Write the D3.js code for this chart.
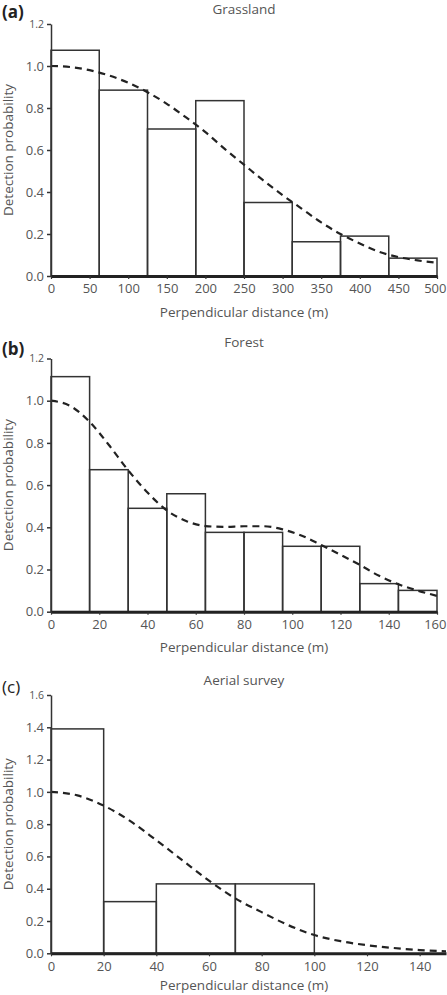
<!DOCTYPE html>
<html>
<head>
<meta charset="utf-8">
<script src="https://cdn.jsdelivr.net/npm/d3@7"></script>
<style>
  body { margin: 0; background: #fff; }
  svg { display: block; font-family: "Open Sans", sans-serif; }
</style>
</head>
<body>
<svg id="drawing_region"></svg>
<script>
// ---- data ----
var grassEdges = [0, 62.5, 125, 187.5, 250, 312.5, 375, 437.5, 500];
var grassBars = [1.075, 0.885, 0.70, 0.835, 0.35, 0.163, 0.19, 0.085];
var grassCurveX = [0, 25, 50, 75, 100, 125, 150, 175, 200, 225, 250, 275, 300, 325, 350, 375, 400, 425, 450, 475, 500];
var grassCurveY = [1.0, 0.995, 0.98, 0.955, 0.92, 0.875, 0.82, 0.755, 0.685, 0.605, 0.53, 0.455, 0.385, 0.32, 0.255, 0.2, 0.155, 0.115, 0.09, 0.074, 0.063];
var grassXTicks = [0, 50, 100, 150, 200, 250, 300, 350, 400, 450, 500];

var forestEdges = [0, 16, 32, 48, 64, 80, 96, 112, 128, 144, 160];
var forestBars = [1.114, 0.673, 0.49, 0.559, 0.376, 0.376, 0.31, 0.31, 0.133, 0.101];
var forestCurveX = [0, 8, 16, 24, 32, 40, 48, 56, 64, 72, 80, 88, 96, 104, 112, 120, 128, 136, 144, 152, 160];
var forestCurveY = [1.0, 0.975, 0.9, 0.79, 0.67, 0.565, 0.48, 0.43, 0.406, 0.402, 0.405, 0.405, 0.39, 0.36, 0.316, 0.27, 0.222, 0.17, 0.13, 0.1, 0.075];
var forestXTicks = [0, 20, 40, 60, 80, 100, 120, 140, 160];

var aerialEdges = [0, 20, 40, 70, 100];
var aerialBars = [1.39, 0.32, 0.43, 0.43];
var aerialCurveX = [0, 10, 20, 30, 40, 50, 60, 70, 80, 90, 100, 110, 120, 130, 140, 150];
var aerialCurveY = [1.0, 0.978, 0.915, 0.82, 0.70, 0.575, 0.45, 0.34, 0.255, 0.175, 0.113, 0.075, 0.05, 0.033, 0.02, 0.012];
var aerialXTicks = [0, 20, 40, 60, 80, 100, 120, 140];

var yTicks12 = [0, 0.2, 0.4, 0.6, 0.8, 1.0, 1.2];
var yTicks16 = [0, 0.2, 0.4, 0.6, 0.8, 1.0, 1.2, 1.4, 1.6];

var panelTitles = ["Grassland", "Forest", "Aerial survey"];
var panelLetters = ["(a)", "(b)", "(c)"];
var xTitle = "Perpendicular distance (m)";
var yTitle = "Detection probability";

// ---- layout ----
var Config = {
    parent: '#drawing_region',
    width: 447,
    height: 995,
    textColor: '#555',
    fontSize: '13.5px',
    tickFontSize: '13px'
};

var Panels = [
    { edges: grassEdges, bars: grassBars, cx: grassCurveX, cy: grassCurveY, xticks: grassXTicks, yticks: yTicks12,
      xdomain: [0, 500], ydomain: [0, 1.2], left: 51, right: 437, top: 24, bottom: 276,
      titleY: 13.5, letterY: 18, letterBold: true, xTitleY: 317 },
    { edges: forestEdges, bars: forestBars, cx: forestCurveX, cy: forestCurveY, xticks: forestXTicks, yticks: yTicks12,
      xdomain: [0, 160], ydomain: [0, 1.2], left: 51, right: 437, top: 358.5, bottom: 611.7,
      titleY: 347, letterY: 355, letterBold: true, xTitleY: 652 },
    { edges: aerialEdges, bars: aerialBars, cx: aerialCurveX, cy: aerialCurveY, xticks: aerialXTicks, yticks: yTicks16,
      xdomain: [0, 150], ydomain: [0, 1.6], left: 51, right: 446, top: 695, bottom: 953.3,
      titleY: 685, letterY: 693, letterBold: false, xTitleY: 990 }
];

const svg = d3.select(Config.parent)
    .attr('width', Config.width)
    .attr('height', Config.height);

function drawPanel(p, i) {
    const g = svg.append('g');

    const xscale = d3.scaleLinear().domain(p.xdomain).range([p.left, p.right]);
    const yscale = d3.scaleLinear().domain(p.ydomain).range([p.bottom, p.top]);

    const binData = p.bars.map((h, k) => ({ x0: p.edges[k], x1: p.edges[k + 1], h: h }));

    g.selectAll('rect.bar')
        .data(binData)
        .join('rect')
        .attr('class', 'bar')
        .attr('x', d => xscale(d.x0))
        .attr('y', d => yscale(d.h))
        .attr('width', d => xscale(d.x1) - xscale(d.x0))
        .attr('height', d => yscale(0) - yscale(d.h))
        .attr('fill', 'none')
        .attr('stroke', '#333')
        .attr('stroke-width', 1.5);

    const curve = p.cx.map((x, k) => ({ x: x, y: p.cy[k] }));
    const line = d3.line()
        .x(d => xscale(d.x))
        .y(d => yscale(d.y))
        .curve(d3.curveMonotoneX);

    g.append('path')
        .datum(curve)
        .attr('d', line)
        .attr('fill', 'none')
        .attr('stroke', '#222')
        .attr('stroke-width', 2.2)
        .attr('stroke-dasharray', '7,5');

    // y axis
    const yaxis = d3.axisLeft(yscale)
        .tickValues(p.yticks)
        .tickFormat(d3.format('.1f'))
        .tickSize(4)
        .tickPadding(3)
        .tickSizeOuter(0);
    const ya = g.append('g')
        .attr('transform', `translate(${p.left},0)`)
        .call(yaxis);
    ya.select('.domain').attr('stroke', '#333').attr('stroke-width', 1.5);
    ya.selectAll('.tick line').attr('stroke', '#333').attr('stroke-width', 1.5);
    ya.selectAll('.tick text')
        .attr('fill', Config.textColor)
        .style('font-size', (d, k) => k === p.yticks.length - 1 ? '10.5px' : Config.tickFontSize)
        .style('font-family', '"Open Sans", sans-serif');

    // x axis
    const xaxis = d3.axisBottom(xscale)
        .tickValues(p.xticks)
        .tickSize(3)
        .tickPadding(5)
        .tickSizeOuter(0);
    const xa = g.append('g')
        .attr('transform', `translate(0,${p.bottom})`)
        .call(xaxis);
    xa.select('.domain').attr('stroke', '#222').attr('stroke-width', 3);
    xa.selectAll('.tick line').attr('stroke', '#333').attr('stroke-width', 1.2);
    xa.selectAll('.tick text')
        .attr('fill', Config.textColor)
        .style('font-size', Config.tickFontSize)
        .style('font-family', '"Open Sans", sans-serif');
    // keep the last label inside the page
    xa.selectAll('.tick text')
        .filter((d, k) => xscale(d) > Config.width - 14)
        .attr('text-anchor', 'end')
        .attr('x', Config.width - 1 - xscale(p.xticks[p.xticks.length - 1]));

    // titles
    g.append('text')
        .attr('x', (p.left + 437) / 2)
        .attr('y', p.titleY)
        .attr('text-anchor', 'middle')
        .attr('fill', Config.textColor)
        .style('font-size', Config.fontSize)
        .text(panelTitles[i]);

    g.append('text')
        .attr('x', 2)
        .attr('y', p.letterY)
        .attr('fill', '#222')
        .style('font-size', '17px')
        .style('font-weight', p.letterBold ? 'bold' : 'normal')
        .text(panelLetters[i]);

    g.append('text')
        .attr('x', (p.left + 437) / 2)
        .attr('y', p.xTitleY)
        .attr('text-anchor', 'middle')
        .attr('fill', Config.textColor)
        .style('font-size', Config.fontSize)
        .text(xTitle);

    g.append('text')
        .attr('transform', `translate(13,${(p.top + p.bottom) / 2}) rotate(-90)`)
        .attr('text-anchor', 'middle')
        .attr('fill', Config.textColor)
        .style('font-size', Config.fontSize)
        .text(yTitle);
}

Panels.forEach((p, i) => drawPanel(p, i));
</script>
</body>
</html>
